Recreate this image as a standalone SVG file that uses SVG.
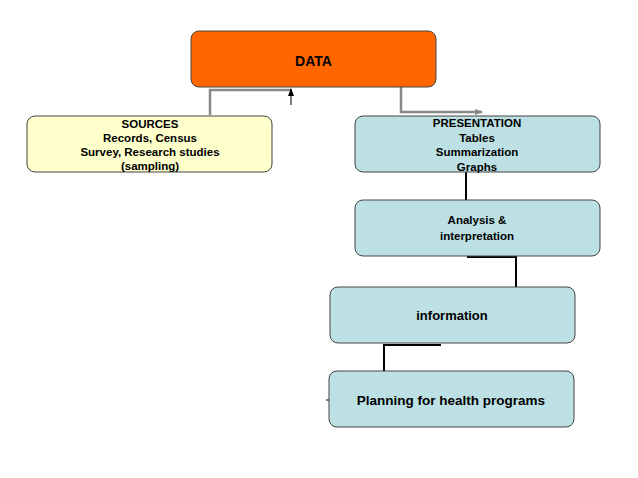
<svg xmlns="http://www.w3.org/2000/svg" width="638" height="478" viewBox="0 0 638 478">
<style>
.b{stroke:#444;stroke-width:1}
.t{font-family:"Liberation Sans",Arial,sans-serif;font-weight:bold;fill:#000;text-anchor:middle}
.g{fill:none;stroke:#888;stroke-width:2.5}
.k{fill:none;stroke:#000;stroke-width:2}
.blue{fill:#BCE0E3}
</style>
<defs>
<marker id="ag" markerWidth="8" markerHeight="8" refX="7" refY="4" orient="auto" markerUnits="userSpaceOnUse"><path d="M0,1 L8,4 L0,7 z" fill="#888"/></marker>
<marker id="ak" markerWidth="8" markerHeight="8" refX="7" refY="4" orient="auto" markerUnits="userSpaceOnUse"><path d="M0,1 L8,4 L0,7 z" fill="#000"/></marker>
</defs>
<rect width="638" height="478" fill="#fff"/>
<g id="connectors">
<path class="g" d="M210,115 V90 H291"/>
<path d="M291,105 V89" stroke="#000" stroke-width="1" marker-end="url(#ak)"/>
<path class="g" d="M401,87 V112 H482" marker-end="url(#ag)"/>
<path class="k" d="M466,172 V200"/>
<path class="k" d="M467,257 H516 V287"/>
<path class="k" d="M384,371 V345 H441"/>
<path d="M326,400 H330" stroke="#000" stroke-width="1"/>
</g>
<g id="data"><rect class="b" x="191" y="31" width="245" height="56" rx="8" fill="#FF6600"/><text class="t" x="313.5" y="66" font-size="14">DATA</text></g>
<g id="sources"><rect class="b" x="27" y="116" width="245" height="56" rx="8" fill="#FFFFCC"/>
<text class="t" font-size="11.5"><tspan x="150" y="128">SOURCES</tspan><tspan x="150" y="142">Records, Census</tspan><tspan x="150" y="156">Survey, Research studies</tspan><tspan x="150" y="170">(sampling)</tspan></text></g>
<g id="presentation"><rect class="b blue" x="355" y="116" width="245" height="56" rx="8"/>
<text class="t" font-size="11.5"><tspan x="477" y="127">PRESENTATION</tspan><tspan x="477" y="142">Tables</tspan><tspan x="477" y="156">Summarization</tspan><tspan x="477" y="171">Graphs</tspan></text></g>
<g id="analysis"><rect class="b blue" x="355" y="200" width="245" height="56" rx="8"/>
<text class="t" font-size="11.5"><tspan x="477" y="224">Analysis &amp;</tspan><tspan x="477" y="240">interpretation</tspan></text></g>
<g id="information"><rect class="b blue" x="330" y="287" width="245" height="56" rx="8"/>
<text class="t" x="452" y="320" font-size="13">information</text></g>
<g id="planning"><rect class="b blue" x="329" y="371" width="245" height="56" rx="8"/>
<text class="t" x="451" y="405" font-size="13.5">Planning for health programs</text></g>
</svg>
